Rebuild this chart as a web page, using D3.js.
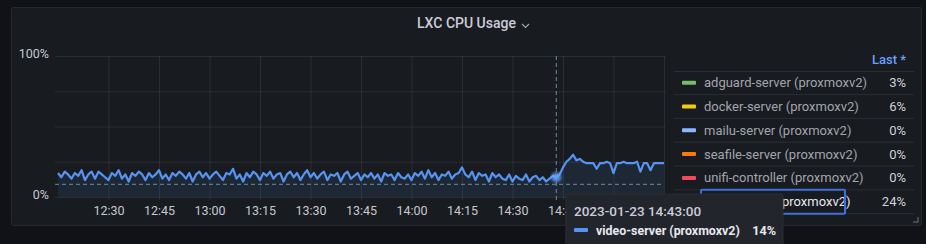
<!DOCTYPE html>
<html>
<head>
<meta charset="utf-8">
<script src="https://cdn.jsdelivr.net/npm/d3@7"></script>
<style>
  body { margin: 0; background: #111217; }
  svg { display: block; font-family: Roboto, sans-serif; }
</style>
</head>
<body>
<svg width="926" height="244"></svg>
<script>
// one sample per minute from 12:15 to 15:15
const startTime = '2023-01-23 12:15:00';
const cpuValues = [
  17, 14, 18, 16, 13, 17, 15, 19, 12, 16, 18, 13, 18, 16, 14,
  12, 17, 15, 19, 13, 16, 11, 17, 15, 18, 16, 12, 17, 14, 16,
  19, 13, 16, 12, 17, 15, 18, 16, 13, 17, 11, 16, 18, 14, 17,
  13, 16, 18, 15, 12, 17, 16, 20, 13, 16, 11, 17, 14, 18, 16,
  12, 17, 15, 18, 13, 16, 17, 11, 16, 18, 14, 17, 12, 16, 19,
  14, 17, 13, 16, 18, 12, 16, 15, 17, 11, 16, 18, 13, 15, 17,
  12, 16, 14, 17, 13, 16, 11, 17, 15, 16, 12, 17, 14, 13, 16,
  12, 17, 15, 18, 13, 19, 14, 17, 12, 16, 15, 18, 13, 16, 17,
  21, 16, 14, 18, 12, 17, 15, 16, 11, 17, 14, 16, 13, 12, 16,
  11, 15, 13, 12, 16, 11, 14, 15, 12, 14, 11, 13, 15, 14, 16,
  21, 25, 27, 30, 26, 27, 25, 24, 24, 24, 20, 24, 24, 25, 24,
  17, 24, 24, 25, 24, 24, 24, 25, 18, 24, 24, 19, 24, 24, 24,
  24
];
const xTickLabels = ['12:30', '12:45', '13:00', '13:15', '13:30', '13:45', '14:00',
  '14:15', '14:30', '14:45', '15:00', '15:15'];
const yTickValues = [0, 25, 50, 75, 100];
const yTickLabels = ['0%', '', '', '', '100%'];
const thresholdValue = 9;
const hoverTime = '2023-01-23 14:43:00';
const hoverSeries = 'video-server (proxmoxv2)';
const hoverValue = 14;
const legendNames = ['adguard-server (proxmoxv2)', 'docker-server (proxmoxv2)',
  'mailu-server (proxmoxv2)', 'seafile-server (proxmoxv2)',
  'unifi-controller (proxmoxv2)', 'video-server (proxmoxv2)'];
const legendColors = ['#73BF69', '#F2CC0C', '#8AB8FF', '#FF780A', '#F2495C', '#5794F2'];
const legendLast = ['3%', '6%', '0%', '0%', '0%', '24%'];

const parse = d3.timeParse('%Y-%m-%d %H:%M:%S');
const t0 = parse(startTime);
const data = cpuValues.map((v, i) => ({ t: d3.timeMinute.offset(t0, i), v: v }));
const tickTimes = xTickLabels.map(s => parse('2023-01-23 ' + s + ':00'));

const svg = d3.select('svg');

// filter for the soft hover dot
svg.append('defs').append('filter').attr('id', 'blur')
  .append('feGaussianBlur').attr('stdDeviation', 1.4);

// panel
svg.append('rect')
  .attr('x', 11.5).attr('y', 7.5).attr('width', 910).attr('height', 218)
  .attr('rx', 2)
  .style('fill', '#181b1f').style('stroke', '#25282d');

svg.append('text')
  .attr('x', 466.5).attr('y', 28)
  .attr('text-anchor', 'middle')
  .style('font-size', '14px').style('font-weight', 500).style('fill', '#ccccdc')
  .text('LXC CPU Usage');
svg.append('path')
  .attr('d', 'M522,24 l3.5,3.5 l3.5,-3.5')
  .style('fill', 'none').style('stroke', '#9fa1a8').style('stroke-width', 1.2);

const xScale = d3.scaleTime()
  .domain([t0, data[data.length - 1].t])
  .range([58, 664]);
const yScale = d3.scaleLinear()
  .domain([0, 100])
  .range([197, 56]);

// horizontal grid
const yAxis = d3.axisLeft(yScale)
  .tickValues(yTickValues)
  .tickSize(-610)
  .tickFormat((d, i) => yTickLabels[i]);
svg.append('g')
  .attr('id', 'yAxisG')
  .attr('transform', 'translate(55,0)')
  .call(yAxis)
  .call(g => g.select('.domain').remove())
  .call(g => g.selectAll('line').style('stroke', '#ccccdc').style('stroke-opacity', 0.1))
  .call(g => g.selectAll('text')
    .attr('x', -6).attr('dy', '0.1em')
    .style('font-size', '12.5px').style('fill', '#c7c8d0').style('font-family', 'Roboto, sans-serif'));

// vertical grid
const xAxis = d3.axisBottom(xScale)
  .tickValues(tickTimes)
  .tickSize(-144)
  .tickSizeOuter(0)
  .tickFormat(d3.timeFormat('%H:%M'));
svg.append('g')
  .attr('id', 'xAxisG')
  .attr('transform', 'translate(0,200)')
  .call(xAxis)
  .call(g => g.select('.domain').remove())
  .call(g => g.selectAll('line').style('stroke', '#ccccdc').style('stroke-opacity', 0.1))
  .call(g => g.selectAll('text')
    .attr('y', 6)
    .style('font-size', '12.5px').style('fill', '#c7c8d0').style('font-family', 'Roboto, sans-serif'));

// threshold line
svg.append('line')
  .attr('x1', 55).attr('x2', 664)
  .attr('y1', yScale(thresholdValue)).attr('y2', yScale(thresholdValue))
  .style('stroke', '#6f8c9c').style('stroke-dasharray', '4,3').style('stroke-width', 1);

// area + line
const area = d3.area()
  .x(d => xScale(d.t))
  .y0(yScale(0))
  .y1(d => yScale(d.v));
const line = d3.line()
  .x(d => xScale(d.t))
  .y(d => yScale(d.v));

svg.append('path')
  .datum(data)
  .attr('d', area)
  .style('fill', '#5794F2').style('fill-opacity', 0.1);
svg.append('path')
  .datum(data)
  .attr('d', line)
  .style('fill', 'none').style('stroke', '#5794F2').style('stroke-width', 2.2)
  .style('stroke-linejoin', 'round');

// crosshair
const hx = xScale(parse(hoverTime));
svg.append('line')
  .attr('x1', hx).attr('x2', hx).attr('y1', 56).attr('y2', 200)
  .style('stroke', '#6f8c9c').style('stroke-dasharray', '4,3');
svg.append('circle')
  .attr('cx', hx).attr('cy', yScale(hoverValue)).attr('r', 5)
  .attr('filter', 'url(#blur)')
  .style('fill', '#6aa3ff').style('fill-opacity', 0.85);

// legend table
const rowY = d3.scaleLinear().domain([0, 5]).range([82.7, 201.7]);
const legend = svg.append('g').attr('id', 'legend');

legend.append('text')
  .attr('x', 906).attr('y', 59)
  .attr('text-anchor', 'end').attr('dominant-baseline', 'central')
  .style('font-size', '13px').style('font-weight', 500).style('fill', '#6e9fff')
  .text('Last *');
legend.append('line')
  .attr('x1', 674).attr('x2', 914).attr('y1', 71.5).attr('y2', 71.5)
  .style('stroke', '#2a2d33');

legend.selectAll('g.row')
  .data(legendNames)
  .enter()
  .append('g')
  .attr('class', 'row')
  .attr('transform', (d, i) => 'translate(0,' + rowY(i) + ')')
  .each(function(d, i) {
    const g = d3.select(this);
    g.append('line')
      .attr('x1', 674).attr('x2', 914).attr('y1', 11.9).attr('y2', 11.9)
      .style('stroke', '#2a2d33');
    g.append('rect')
      .attr('x', 682).attr('y', -2).attr('width', 14).attr('height', 4).attr('rx', 1)
      .style('fill', legendColors[i]);
    g.append('text')
      .attr('x', 704).attr('dominant-baseline', 'central')
      .style('font-size', '13px')
      .style('fill', i === 5 ? '#e8e9ee' : '#a3a5ad')
      .text(d);
    g.append('text')
      .attr('x', 906).attr('dominant-baseline', 'central')
      .attr('text-anchor', 'end')
      .style('font-size', '13px').style('fill', '#d0d1d8')
      .text(legendLast[i]);
    if (i === 5) {
      g.append('rect')
        .attr('x', 701).attr('y', -12).attr('width', 144).attr('height', 24).attr('rx', 1)
        .style('fill', 'none').style('stroke', '#3d71d9').style('stroke-width', 2);
    }
  });

// resize corner
svg.append('path')
  .attr('d', 'M913,222 h5 v-5')
  .style('fill', 'none').style('stroke', '#55585e').style('stroke-width', 1.5);

// tooltip
const tip = svg.append('g').attr('id', 'tooltip');
tip.append('rect')
  .attr('x', 566).attr('y', 194).attr('width', 217).attr('height', 62).attr('rx', 2)
  .style('fill', '#22252b').style('stroke', '#2c2f35');
tip.append('text')
  .attr('x', 574).attr('y', 211).attr('dominant-baseline', 'central')
  .style('font-size', '13.5px').style('font-weight', 500).style('fill', '#ccccdc')
  .text(hoverTime);
tip.append('rect')
  .attr('x', 574).attr('y', 228).attr('width', 14).attr('height', 4).attr('rx', 1)
  .style('fill', '#5794F2');
tip.append('text')
  .attr('x', 596).attr('y', 230).attr('dominant-baseline', 'central')
  .style('font-size', '12.4px').style('font-weight', 700).style('fill', '#e8e9ee')
  .text(hoverSeries);
tip.append('text')
  .attr('x', 776).attr('y', 230).attr('dominant-baseline', 'central')
  .attr('text-anchor', 'end')
  .style('font-size', '12.6px').style('font-weight', 700).style('fill', '#e8e9ee')
  .text(hoverValue + '%');

// next panel title, cut off by the window
svg.append('text')
  .attr('x', 34).attr('y', 255)
  .style('font-size', '14px').style('font-weight', 500).style('fill', '#ccccdc')
  .text('Disk I/O');
</script>
</body>
</html>
